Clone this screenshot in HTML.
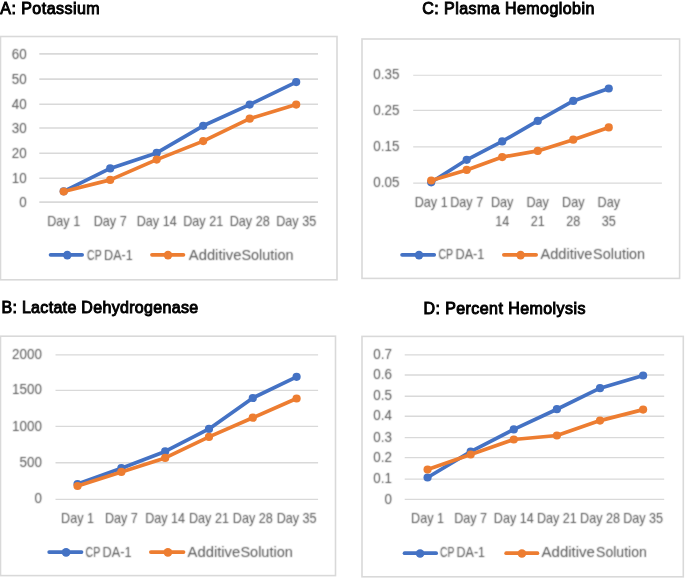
<!DOCTYPE html>
<html><head><meta charset="utf-8"><title>Figure</title>
<style>
html,body{margin:0;padding:0;background:#fff;}
body{width:685px;height:579px;overflow:hidden;}
svg{display:block;}
.t{font-family:'Liberation Sans', Arial, sans-serif;font-size:16.0px;fill:#000;stroke:#000;stroke-width:0.95px;}
.a{font-family:'Liberation Sans', Arial, sans-serif;font-size:14.4px;fill:#595959;stroke:#595959;stroke-width:0px;}
.l{font-family:'Liberation Sans', Arial, sans-serif;font-size:14.0px;fill:#595959;stroke:#595959;stroke-width:0px;}
</style></head>
<body><svg width="685" height="579" viewBox="0 0 685 579">
<defs><filter id="soft" x="0" y="0" width="685" height="579" filterUnits="userSpaceOnUse" primitiveUnits="userSpaceOnUse"><feConvolveMatrix order="3" kernelMatrix="1 2 1 2 8 2 1 2 1" divisor="20" edgeMode="duplicate"/></filter></defs>
<rect width="685" height="579" fill="#fff"/>
<rect x="0.5" y="36.5" width="336.5" height="243.3" fill="#fff" stroke="#D9D9D9" stroke-width="1.6"/>
<path d="M39.3 202.1H318M39.3 178.3H318M39.3 153.2H318M39.3 128H318M39.3 104.2H318M39.3 79.1H318M39.3 53.9H318" stroke="#D9D9D9" stroke-width="1.6" fill="none"/>
<rect x="362" y="39" width="317.6" height="239.4" fill="#fff" stroke="#D9D9D9" stroke-width="1.6"/>
<path d="M413.2 183.1H661.9M413.2 146.8H661.9M413.2 110.4H661.9M413.2 75.2H661.9" stroke="#D9D9D9" stroke-width="1.15" fill="none"/>
<rect x="0.5" y="336.2" width="335" height="239.4" fill="#fff" stroke="#D9D9D9" stroke-width="1.6"/>
<path d="M55.5 499.3H318.1M55.5 462.7H318.1M55.5 426.4H318.1M55.5 390.3H318.1M55.5 354.9H318.1" stroke="#D9D9D9" stroke-width="1.35" fill="none"/>
<rect x="362" y="336.4" width="321.3" height="240.4" fill="#fff" stroke="#D9D9D9" stroke-width="1.6"/>
<path d="M404.7 499.4H664.2M404.7 479.1H664.2M404.7 457.6H664.2M404.7 437.6H664.2M404.7 416.2H664.2M404.7 396.2H664.2M404.7 375H664.2M404.7 354.9H664.2" stroke="#D9D9D9" stroke-width="1.35" fill="none"/>
<g filter="url(#soft)">
<g><text class="a" x="26.6" y="207.16" text-anchor="end" textLength="7.45" lengthAdjust="spacingAndGlyphs">0</text><text class="a" x="26.6" y="183.36" text-anchor="end" textLength="14.91" lengthAdjust="spacingAndGlyphs">10</text><text class="a" x="26.6" y="158.26" text-anchor="end" textLength="14.91" lengthAdjust="spacingAndGlyphs">20</text><text class="a" x="26.6" y="133.06" text-anchor="end" textLength="14.91" lengthAdjust="spacingAndGlyphs">30</text><text class="a" x="26.6" y="109.26" text-anchor="end" textLength="14.91" lengthAdjust="spacingAndGlyphs">40</text><text class="a" x="26.6" y="84.16" text-anchor="end" textLength="14.91" lengthAdjust="spacingAndGlyphs">50</text><text class="a" x="26.6" y="58.96" text-anchor="end" textLength="14.91" lengthAdjust="spacingAndGlyphs">60</text><text class="a" x="63.7" y="226.2" text-anchor="middle" textLength="32.91" lengthAdjust="spacingAndGlyphs">Day 1</text><text class="a" x="110.2" y="226.2" text-anchor="middle" textLength="32.91" lengthAdjust="spacingAndGlyphs">Day 7</text><text class="a" x="156.7" y="226.2" text-anchor="middle" textLength="39.91" lengthAdjust="spacingAndGlyphs">Day 14</text><text class="a" x="203.2" y="226.2" text-anchor="middle" textLength="39.91" lengthAdjust="spacingAndGlyphs">Day 21</text><text class="a" x="249.7" y="226.2" text-anchor="middle" textLength="39.91" lengthAdjust="spacingAndGlyphs">Day 28</text><text class="a" x="296.2" y="226.2" text-anchor="middle" textLength="39.91" lengthAdjust="spacingAndGlyphs">Day 35</text><text class="l" y="260.05"><tspan x="87.1" textLength="14.5" lengthAdjust="spacingAndGlyphs">CP</tspan><tspan x="104" textLength="28.8" lengthAdjust="spacingAndGlyphs">DA-1</tspan></text><text class="l" y="260.05"><tspan x="188.8" textLength="52.6" lengthAdjust="spacingAndGlyphs">Additive</tspan> <tspan x="241.4" textLength="52" lengthAdjust="spacingAndGlyphs">Solution</tspan></text></g>
<g><text class="a" x="399.4" y="187.26" text-anchor="end" textLength="26.06" lengthAdjust="spacingAndGlyphs">0.05</text><text class="a" x="399.4" y="150.96" text-anchor="end" textLength="26.06" lengthAdjust="spacingAndGlyphs">0.15</text><text class="a" x="399.4" y="114.56" text-anchor="end" textLength="26.06" lengthAdjust="spacingAndGlyphs">0.25</text><text class="a" x="399.4" y="79.36" text-anchor="end" textLength="26.06" lengthAdjust="spacingAndGlyphs">0.35</text><text class="a" x="431.2" y="207.1" text-anchor="middle" textLength="32.91" lengthAdjust="spacingAndGlyphs">Day 1</text><text class="a" x="466.71" y="207.1" text-anchor="middle" textLength="32.91" lengthAdjust="spacingAndGlyphs">Day 7</text><text class="a" x="502.22" y="207.1" text-anchor="middle" textLength="22.41" lengthAdjust="spacingAndGlyphs">Day</text><text class="a" x="502.22" y="226" text-anchor="middle" textLength="14.02" lengthAdjust="spacingAndGlyphs">14</text><text class="a" x="537.73" y="207.1" text-anchor="middle" textLength="22.41" lengthAdjust="spacingAndGlyphs">Day</text><text class="a" x="537.73" y="226" text-anchor="middle" textLength="14.02" lengthAdjust="spacingAndGlyphs">21</text><text class="a" x="573.24" y="207.1" text-anchor="middle" textLength="22.41" lengthAdjust="spacingAndGlyphs">Day</text><text class="a" x="573.24" y="226" text-anchor="middle" textLength="14.02" lengthAdjust="spacingAndGlyphs">28</text><text class="a" x="608.75" y="207.1" text-anchor="middle" textLength="22.41" lengthAdjust="spacingAndGlyphs">Day</text><text class="a" x="608.75" y="226" text-anchor="middle" textLength="14.02" lengthAdjust="spacingAndGlyphs">35</text><text class="l" y="258.95"><tspan x="438.4" textLength="14.8" lengthAdjust="spacingAndGlyphs">CP</tspan><tspan x="455.5" textLength="28.9" lengthAdjust="spacingAndGlyphs">DA-1</tspan></text><text class="l" y="258.95"><tspan x="540.4" textLength="52" lengthAdjust="spacingAndGlyphs">Additive</tspan> <tspan x="593.1" textLength="52" lengthAdjust="spacingAndGlyphs">Solution</tspan></text></g>
<g><text class="a" x="41.9" y="503.46" text-anchor="end" textLength="7.45" lengthAdjust="spacingAndGlyphs">0</text><text class="a" x="41.9" y="466.86" text-anchor="end" textLength="22.34" lengthAdjust="spacingAndGlyphs">500</text><text class="a" x="41.9" y="430.56" text-anchor="end" textLength="29.8" lengthAdjust="spacingAndGlyphs">1000</text><text class="a" x="41.9" y="394.46" text-anchor="end" textLength="29.8" lengthAdjust="spacingAndGlyphs">1500</text><text class="a" x="41.9" y="359.06" text-anchor="end" textLength="29.8" lengthAdjust="spacingAndGlyphs">2000</text><text class="a" x="77.55" y="522.8" text-anchor="middle" textLength="32.91" lengthAdjust="spacingAndGlyphs">Day 1</text><text class="a" x="121.36" y="522.8" text-anchor="middle" textLength="32.91" lengthAdjust="spacingAndGlyphs">Day 7</text><text class="a" x="165.17" y="522.8" text-anchor="middle" textLength="39.91" lengthAdjust="spacingAndGlyphs">Day 14</text><text class="a" x="208.98" y="522.8" text-anchor="middle" textLength="39.91" lengthAdjust="spacingAndGlyphs">Day 21</text><text class="a" x="252.79" y="522.8" text-anchor="middle" textLength="39.91" lengthAdjust="spacingAndGlyphs">Day 28</text><text class="a" x="296.6" y="522.8" text-anchor="middle" textLength="39.91" lengthAdjust="spacingAndGlyphs">Day 35</text><text class="l" y="557.4"><tspan x="85.6" textLength="14.8" lengthAdjust="spacingAndGlyphs">CP</tspan><tspan x="102.6" textLength="29" lengthAdjust="spacingAndGlyphs">DA-1</tspan></text><text class="l" y="557.4"><tspan x="187.6" textLength="52.6" lengthAdjust="spacingAndGlyphs">Additive</tspan> <tspan x="240.4" textLength="52.4" lengthAdjust="spacingAndGlyphs">Solution</tspan></text></g>
<g><text class="a" x="391.9" y="503.56" text-anchor="end" textLength="7.45" lengthAdjust="spacingAndGlyphs">0</text><text class="a" x="391.9" y="483.26" text-anchor="end" textLength="18.62" lengthAdjust="spacingAndGlyphs">0.1</text><text class="a" x="391.9" y="461.76" text-anchor="end" textLength="18.62" lengthAdjust="spacingAndGlyphs">0.2</text><text class="a" x="391.9" y="441.76" text-anchor="end" textLength="18.62" lengthAdjust="spacingAndGlyphs">0.3</text><text class="a" x="391.9" y="420.36" text-anchor="end" textLength="18.62" lengthAdjust="spacingAndGlyphs">0.4</text><text class="a" x="391.9" y="400.36" text-anchor="end" textLength="18.62" lengthAdjust="spacingAndGlyphs">0.5</text><text class="a" x="391.9" y="379.16" text-anchor="end" textLength="18.62" lengthAdjust="spacingAndGlyphs">0.6</text><text class="a" x="391.9" y="359.06" text-anchor="end" textLength="18.62" lengthAdjust="spacingAndGlyphs">0.7</text><text class="a" x="427.57" y="523" text-anchor="middle" textLength="32.91" lengthAdjust="spacingAndGlyphs">Day 1</text><text class="a" x="470.68" y="523" text-anchor="middle" textLength="32.91" lengthAdjust="spacingAndGlyphs">Day 7</text><text class="a" x="513.79" y="523" text-anchor="middle" textLength="39.91" lengthAdjust="spacingAndGlyphs">Day 14</text><text class="a" x="556.9" y="523" text-anchor="middle" textLength="39.91" lengthAdjust="spacingAndGlyphs">Day 21</text><text class="a" x="600.01" y="523" text-anchor="middle" textLength="39.91" lengthAdjust="spacingAndGlyphs">Day 28</text><text class="a" x="643.12" y="523" text-anchor="middle" textLength="39.91" lengthAdjust="spacingAndGlyphs">Day 35</text><text class="l" y="557.35"><tspan x="440" textLength="14.4" lengthAdjust="spacingAndGlyphs">CP</tspan><tspan x="456.6" textLength="28.4" lengthAdjust="spacingAndGlyphs">DA-1</tspan></text><text class="l" y="557.35"><tspan x="541.6" textLength="53.3" lengthAdjust="spacingAndGlyphs">Additive</tspan> <tspan x="596" textLength="50.8" lengthAdjust="spacingAndGlyphs">Solution</tspan></text></g>
</g>
<path d="M63.7 191.3 L110.2 168.4 L156.7 152.9 L203.2 125.8 L249.7 104.6 L296.2 82.1" stroke="#4472C4" stroke-width="3.7" fill="none" stroke-linejoin="round" stroke-linecap="round"/>
<circle cx="63.7" cy="191.3" r="4.1" fill="#4472C4"/>
<circle cx="110.2" cy="168.4" r="4.1" fill="#4472C4"/>
<circle cx="156.7" cy="152.9" r="4.1" fill="#4472C4"/>
<circle cx="203.2" cy="125.8" r="4.1" fill="#4472C4"/>
<circle cx="249.7" cy="104.6" r="4.1" fill="#4472C4"/>
<circle cx="296.2" cy="82.1" r="4.1" fill="#4472C4"/>
<path d="M63.7 191.5 L110.2 179.9 L156.7 159.6 L203.2 141.1 L249.7 118.7 L296.2 104.6" stroke="#ED7D31" stroke-width="3.7" fill="none" stroke-linejoin="round" stroke-linecap="round"/>
<circle cx="63.7" cy="191.5" r="4.1" fill="#ED7D31"/>
<circle cx="110.2" cy="179.9" r="4.1" fill="#ED7D31"/>
<circle cx="156.7" cy="159.6" r="4.1" fill="#ED7D31"/>
<circle cx="203.2" cy="141.1" r="4.1" fill="#ED7D31"/>
<circle cx="249.7" cy="118.7" r="4.1" fill="#ED7D31"/>
<circle cx="296.2" cy="104.6" r="4.1" fill="#ED7D31"/>
<path d="M50.55 254.8H82.15" stroke="#4472C4" stroke-width="3.7" stroke-linecap="round"/>
<circle cx="67.3" cy="255.1" r="4.3" fill="#4472C4"/>
<path d="M151.95 254.8H183.45" stroke="#ED7D31" stroke-width="3.7" stroke-linecap="round"/>
<circle cx="168" cy="255.1" r="4.3" fill="#ED7D31"/>
<path d="M431.2 182.3 L466.71 159.8 L502.22 141.4 L537.73 120.9 L573.24 100.9 L608.75 88.5" stroke="#4472C4" stroke-width="3.7" fill="none" stroke-linejoin="round" stroke-linecap="round"/>
<circle cx="431.2" cy="182.3" r="4.1" fill="#4472C4"/>
<circle cx="466.71" cy="159.8" r="4.1" fill="#4472C4"/>
<circle cx="502.22" cy="141.4" r="4.1" fill="#4472C4"/>
<circle cx="537.73" cy="120.9" r="4.1" fill="#4472C4"/>
<circle cx="573.24" cy="100.9" r="4.1" fill="#4472C4"/>
<circle cx="608.75" cy="88.5" r="4.1" fill="#4472C4"/>
<path d="M431.2 180.5 L466.71 169.9 L502.22 157.1 L537.73 150.9 L573.24 139.7 L608.75 127.4" stroke="#ED7D31" stroke-width="3.7" fill="none" stroke-linejoin="round" stroke-linecap="round"/>
<circle cx="431.2" cy="180.5" r="4.1" fill="#ED7D31"/>
<circle cx="466.71" cy="169.9" r="4.1" fill="#ED7D31"/>
<circle cx="502.22" cy="157.1" r="4.1" fill="#ED7D31"/>
<circle cx="537.73" cy="150.9" r="4.1" fill="#ED7D31"/>
<circle cx="573.24" cy="139.7" r="4.1" fill="#ED7D31"/>
<circle cx="608.75" cy="127.4" r="4.1" fill="#ED7D31"/>
<path d="M402.05 254.8H434.25" stroke="#4472C4" stroke-width="3.7" stroke-linecap="round"/>
<circle cx="419" cy="255.1" r="4.3" fill="#4472C4"/>
<path d="M503.85 254.8H536.15" stroke="#ED7D31" stroke-width="3.7" stroke-linecap="round"/>
<circle cx="520.6" cy="255.1" r="4.3" fill="#ED7D31"/>
<path d="M77.55 484.1 L121.36 468.2 L165.17 451.4 L208.98 428.9 L252.79 398 L296.6 376.8" stroke="#4472C4" stroke-width="3.7" fill="none" stroke-linejoin="round" stroke-linecap="round"/>
<circle cx="77.55" cy="484.1" r="4.1" fill="#4472C4"/>
<circle cx="121.36" cy="468.2" r="4.1" fill="#4472C4"/>
<circle cx="165.17" cy="451.4" r="4.1" fill="#4472C4"/>
<circle cx="208.98" cy="428.9" r="4.1" fill="#4472C4"/>
<circle cx="252.79" cy="398" r="4.1" fill="#4472C4"/>
<circle cx="296.6" cy="376.8" r="4.1" fill="#4472C4"/>
<path d="M77.55 486 L121.36 471.9 L165.17 457.9 L208.98 436.9 L252.79 417.7 L296.6 398.5" stroke="#ED7D31" stroke-width="3.7" fill="none" stroke-linejoin="round" stroke-linecap="round"/>
<circle cx="77.55" cy="486" r="4.1" fill="#ED7D31"/>
<circle cx="121.36" cy="471.9" r="4.1" fill="#ED7D31"/>
<circle cx="165.17" cy="457.9" r="4.1" fill="#ED7D31"/>
<circle cx="208.98" cy="436.9" r="4.1" fill="#ED7D31"/>
<circle cx="252.79" cy="417.7" r="4.1" fill="#ED7D31"/>
<circle cx="296.6" cy="398.5" r="4.1" fill="#ED7D31"/>
<path d="M49.15 552.1H81.55" stroke="#4472C4" stroke-width="3.7" stroke-linecap="round"/>
<circle cx="66.1" cy="552.4" r="4.3" fill="#4472C4"/>
<path d="M150.85 552.1H183.55" stroke="#ED7D31" stroke-width="3.7" stroke-linecap="round"/>
<circle cx="167.9" cy="552.4" r="4.3" fill="#ED7D31"/>
<path d="M427.57 477.5 L470.68 451.6 L513.79 429.4 L556.9 409.2 L600.01 388.2 L643.12 375.5" stroke="#4472C4" stroke-width="3.7" fill="none" stroke-linejoin="round" stroke-linecap="round"/>
<circle cx="427.57" cy="477.5" r="4.1" fill="#4472C4"/>
<circle cx="470.68" cy="451.6" r="4.1" fill="#4472C4"/>
<circle cx="513.79" cy="429.4" r="4.1" fill="#4472C4"/>
<circle cx="556.9" cy="409.2" r="4.1" fill="#4472C4"/>
<circle cx="600.01" cy="388.2" r="4.1" fill="#4472C4"/>
<circle cx="643.12" cy="375.5" r="4.1" fill="#4472C4"/>
<path d="M427.57 469.5 L470.68 454.5 L513.79 439.5 L556.9 435.5 L600.01 420.6 L643.12 409.6" stroke="#ED7D31" stroke-width="3.7" fill="none" stroke-linejoin="round" stroke-linecap="round"/>
<circle cx="427.57" cy="469.5" r="4.1" fill="#ED7D31"/>
<circle cx="470.68" cy="454.5" r="4.1" fill="#ED7D31"/>
<circle cx="513.79" cy="439.5" r="4.1" fill="#ED7D31"/>
<circle cx="556.9" cy="435.5" r="4.1" fill="#ED7D31"/>
<circle cx="600.01" cy="420.6" r="4.1" fill="#ED7D31"/>
<circle cx="643.12" cy="409.6" r="4.1" fill="#ED7D31"/>
<path d="M404.55 553.2H436.15" stroke="#4472C4" stroke-width="3.7" stroke-linecap="round"/>
<circle cx="420.1" cy="553.5" r="4.3" fill="#4472C4"/>
<path d="M506.15 553.2H537.45" stroke="#ED7D31" stroke-width="3.7" stroke-linecap="round"/>
<circle cx="521.9" cy="553.5" r="4.3" fill="#ED7D31"/>
<text class="t" x="0.3" y="13.6" textLength="99.3" lengthAdjust="spacing">A: Potassium</text>
<text class="t" x="422.3" y="13.6" textLength="172" lengthAdjust="spacing">C: Plasma Hemoglobin</text>
<text class="t" x="1.4" y="313.4" textLength="196.7" lengthAdjust="spacing">B: Lactate Dehydrogenase</text>
<text class="t" x="423.4" y="313.5" textLength="162" lengthAdjust="spacing">D: Percent Hemolysis</text>
</svg></body></html>
